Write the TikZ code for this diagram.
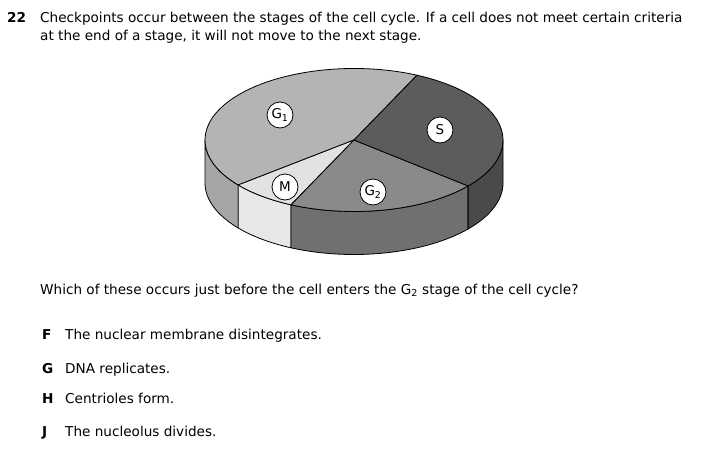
\documentclass[tikz,border=0pt]{standalone}
\usepackage{fontspec}
\setmainfont{DejaVu Sans}
\usetikzlibrary{calc}
\definecolor{gAt}{HTML}{B4B4B4}\definecolor{gAs}{HTML}{A6A6A6}
\definecolor{mt}{HTML}{E2E2E2}\definecolor{ms}{HTML}{E8E8E8}
\definecolor{gBt}{HTML}{8A8A8A}\definecolor{gBs}{HTML}{707070}
\definecolor{st}{HTML}{5C5C5C}\definecolor{ss}{HTML}{4A4A4A}
\begin{document}
\begin{tikzpicture}[x=1pt,y=1pt,
  txt/.style={anchor=base west,inner sep=0pt,font=\fontsize{13.6}{16}\selectfont},
  lab/.style={circle,draw,fill=white,thick,minimum size=26pt,inner sep=0pt,font=\fontsize{13.5}{16}\selectfont},
  edge/.style={draw=black,line width=0.8pt,line join=round}]
\useasboundingbox (0,0) rectangle (704,-461);
\def\rx{149}\def\ry{71.5}\def\dep{43}
\coordinate (c) at (354,-140);
% sides
\foreach \a/\b/\col in {180/219/gAs,219/245/ms,245/320/gBs,320/360/ss}{
  \path[edge,fill=\col] ($(c)+(\a:\rx pt and \ry pt)$) arc[start angle=\a,end angle=\b,x radius=\rx,y radius=\ry] -- ++(0,-\dep) arc[start angle=\b,end angle=\a,x radius=\rx,y radius=\ry] -- cycle;
}
% tops
\foreach \a/\b/\col in {65/219/gAt,219/245/mt,245/320/gBt,320/425/st}{
  \path[edge,fill=\col] (c) -- ($(c)+(\a:\rx pt and \ry pt)$) arc[start angle=\a,end angle=\b,x radius=\rx,y radius=\ry] -- cycle;
}
\node[lab] (g1) at (280,-115) {G\textsubscript{1}};
\node[lab] (s) at (440,-130) {S};
\node[lab] (m) at (285,-187) {M};
\node[lab] (g2) at (373,-192) {G\textsubscript{2}};
\node[txt] (n22) at (7,-22) {\textbf{22}};
\node[txt] (q1) at (40,-22) {Checkpoints occur between the stages of the cell cycle. If a cell does not meet certain criteria};
\node[txt] (q2) at (40,-40) {at the end of a stage, it will not move to the next stage.};
\node[txt] (q3) at (40,-294) {Which of these occurs just before the cell enters the G\textsubscript{2} stage of the cell cycle?};
\node[txt] (lf) at (42,-339) {\textbf{F}};
\node[txt] (of) at (65,-339) {The nuclear membrane disintegrates.};
\node[txt] (lg) at (42,-373) {\textbf{G}};
\node[txt] (og) at (65,-373) {DNA replicates.};
\node[txt] (lh) at (42,-403) {\textbf{H}};
\node[txt] (oh) at (65,-403) {Centrioles form.};
\node[txt] (lj) at (42,-436) {\textbf{J}};
\node[txt] (oj) at (65,-436) {The nucleolus divides.};
\end{tikzpicture}
\end{document}
